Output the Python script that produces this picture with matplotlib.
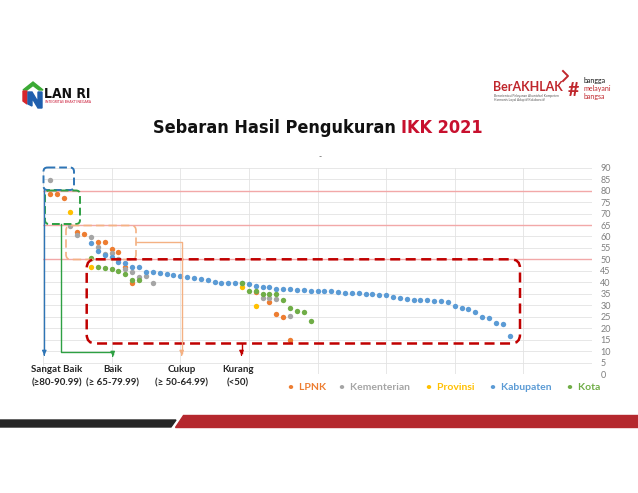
import matplotlib.pyplot as plt
import matplotlib.patches as mpatches
from matplotlib import font_manager

# series data: x = rank position, y = IKK score
lpnk_x = [1, 2, 3, 5, 6, 8, 9, 10, 11, 12, 13, 31, 33, 34, 35, 36]
lpnk_y = [78.5, 78.4, 76.6, 61.8, 61.0, 57.6, 57.6, 54.4, 53.2, 46.8, 39.6, 35.6, 31.3, 26.1, 24.7, 14.8]

kementerian_x = [1, 4, 5, 7, 8, 9, 10, 11, 12, 13, 14, 15, 16, 32, 33, 34, 36]
kementerian_y = [84.8, 64.4, 60.6, 59.6, 55.5, 52.5, 52.6, 50.0, 45.8, 44.6, 42.5, 42.7, 39.8,
                 33.3, 33.3, 32.8, 25.2]

provinsi_x = [4, 7, 29, 31]
provinsi_y = [70.8, 46.5, 37.8, 29.6]

kabupaten_x = list(range(7, 69))
kabupaten_y = [57.2, 53.6, 51.9, 51.0, 48.7, 48.4, 46.6, 46.6, 44.6, 44.6,
               44.0, 43.6, 43.2, 42.6, 42.4, 41.9, 41.4, 41.0, 40.1, 39.9,
               39.8, 39.8, 39.8, 39.1, 38.3, 38.0, 38.0, 37.3, 37.0, 37.0,
               36.6, 36.6, 36.3, 36.3, 36.3, 36.2, 35.9, 35.4, 35.2, 35.2,
               34.8, 34.7, 34.4, 34.4, 33.7, 33.0, 32.7, 32.5, 32.5, 32.2,
               31.9, 31.9, 31.5, 29.6, 29.0, 28.2, 27.1, 24.9, 24.6, 22.3,
               21.7, 16.5]

kota_x = [7, 8, 9, 10, 11, 12, 13, 14, 29, 30, 31, 32, 33, 34, 35, 36, 37, 38, 39]
kota_y = [50.4, 46.5, 46.1, 45.9, 45.0, 43.8, 40.8, 40.8, 39.6, 36.2, 36.0, 34.7, 34.7, 34.7,
          32.2, 29.0, 27.6, 26.9, 23.2]

series_names = ['LPNK', 'Kementerian', 'Provinsi', 'Kabupaten', 'Kota']
series_colors = ['#ED7D31', '#A5A5A5', '#FFC000', '#5B9BD5', '#70AD47']
limits = [80, 65, 50]

plt.rcParams['font.family'] = ['Lato', 'DejaVu Sans']

# pick a narrow bold face for the title if one is installed
fonts = font_manager.fontManager.ttflist
narrow = dict(family=['DejaVu Sans'])
if any(f.name == 'Liberation Sans Narrow' for f in fonts):
    narrow = dict(family=['Liberation Sans Narrow', 'DejaVu Sans'])
elif any(f.name == 'DejaVu Sans' and 'condensed' in str(f.stretch) for f in fonts):
    narrow = dict(family=['DejaVu Sans'], fontstretch='condensed')
elif any(f.name == 'Roboto' for f in fonts):
    narrow = dict(family=['Roboto', 'DejaVu Sans'])

W, H = 638, 493
fig = plt.figure(figsize=(W / 100, H / 100), dpi=100)

# main chart
ax = fig.add_axes([43 / W, 1 - 374 / H, (592 - 43) / W, (374 - 167.7) / H])
data = [(lpnk_x, lpnk_y), (kementerian_x, kementerian_y), (provinsi_x, provinsi_y),
        (kabupaten_x, kabupaten_y), (kota_x, kota_y)]
for (xs, ys), c in zip(data, series_colors):
    ax.scatter(xs, ys, s=15, color=c, linewidths=0, zorder=3)

ax.set_xlim(0, 80)
ax.set_ylim(0, 90)
ax.set_xticks(range(0, 81, 10))
ax.set_xticklabels([])
ax.set_yticks(range(0, 91, 5))
ax.yaxis.tick_right()
ax.tick_params(length=0, labelsize=6.5, labelcolor='#7f7f7f', pad=6)
ax.grid(color='#e3e3e3', lw=0.6)
ax.set_axisbelow(True)
for s in ax.spines.values():
    s.set_visible(False)
for v in limits:
    ax.axhline(v, color='#f2a8a8', lw=1, zorder=1)

# overlay in pixel coords for annotations
ov = fig.add_axes([0, 0, 1, 1])
ov.set_xlim(0, W)
ov.set_ylim(H, 0)
ov.axis('off')


def box(x0, y0, x1, y1, c, lw, r, dash):
    ov.add_patch(mpatches.FancyBboxPatch((x0, y0), x1 - x0, y1 - y0,
                                         boxstyle=f'round,pad=0,rounding_size={r}',
                                         fill=False, ec=c, lw=lw, ls=(0, dash)))


def arrow(pts, c, lw=1.0):
    xs = [p[0] for p in pts]
    ys = [p[1] for p in pts]
    ov.plot(xs[:-1] + [xs[-1]], ys[:-1] + [ys[-1] - 5], color=c, lw=lw)
    ov.annotate('', xy=(xs[-1], ys[-1]), xytext=(xs[-1], ys[-1] - 6),
                arrowprops=dict(arrowstyle='-|>', color=c, lw=lw, mutation_scale=6))


box(43.5, 167.5, 74, 190, '#2E75B6', 1.4, 4, (4, 2))
box(45, 190.5, 80, 224, '#2EA043', 1.4, 4, (4, 2))
box(66, 225.5, 136, 259.5, '#F4B183', 1.2, 5, (5, 2.5))
box(86.7, 259.3, 520, 343.5, '#C00000', 1.8, 9, (4, 2.2))

arrow([(44.3, 190), (44.3, 358)], '#2E75B6')
arrow([(60.7, 224), (60.7, 352), (112.7, 352), (112.7, 359)], '#2EA043')
arrow([(136, 242), (181.7, 242), (181.7, 358)], '#F4B183')
arrow([(241.5, 343.5), (241.5, 358)], '#C00000')

lab = dict(ha='center', va='center', fontsize=7, weight='bold', color='#262626')
ov.text(57, 370, 'Sangat Baik', **lab)
ov.text(57, 383, '(≥80-90.99)', **lab)
ov.text(112.5, 370, 'Baik', **lab)
ov.text(112.5, 383, '(≥ 65-79.99)', **lab)
ov.text(181.5, 370, 'Cukup', **lab)
ov.text(181.5, 383, '(≥ 50-64.99)', **lab)
ov.text(238, 370, 'Kurang', **lab)
ov.text(238, 383, '(<50)', **lab)

# legend
leg_x = [288, 339, 426, 490, 567]
for x, name, c in zip(leg_x, series_names, series_colors):
    ov.text(x, 387.5, '•  ' + name, color=c, fontsize=7.5, weight='bold', va='center')

ov.text(320, 157, '-', ha='center', va='center', fontsize=6, color='#404040')

# title, sized to the reference width
tkw = dict(weight='bold', va='center', **narrow)
t1 = ov.text(0, 128, 'Sebaran Hasil Pengukuran ', ha='left', color='#111111', fontsize=16, **tkw)
t2 = ov.text(0, 128, 'IKK 2021', ha='left', color='#C8102E', fontsize=16, **tkw)
r = fig.canvas.get_renderer()
w1 = t1.get_window_extent(r).width
w2 = t2.get_window_extent(r).width
k = 330 / (w1 + w2)
t1.set_fontsize(16 * k)
t2.set_fontsize(16 * k)
t1.set_x(153)
t2.set_x(153 + w1 * k)

# LAN RI logo
ov.add_patch(mpatches.Polygon([(23, 90), (33, 82), (43, 90), (39, 90), (33, 85.5), (27, 90)],
                              color='#3BAA35'))
ov.add_patch(mpatches.Polygon([(23, 91), (27, 91), (27, 104), (23, 101)], color='#D7262C'))
ov.add_patch(mpatches.Polygon([(28, 92), (32, 92), (38, 102), (38, 92), (42, 92), (42, 108),
                               (38, 108), (32, 98), (32, 106), (28, 104)], color='#1F5FAD'))
ov.text(44, 94, 'LAN RI', fontsize=10, weight='bold', color='#111111', va='center', **narrow)
ov.text(45, 102, 'INTEGRITAS BHAKTI NEGARA', fontsize=2.4, color='#C8102E', va='center')

# BerAKHLAK logo
ov.text(493, 87, 'BerAKHLAK', fontsize=9, weight='bold', color='#C0272D', va='center')
ov.text(494, 96, 'Berorientasi Pelayanan Akuntabel Kompeten', fontsize=2.3, color='#555555', va='center')
ov.text(494, 100, 'Harmonis Loyal Adaptif Kolaboratif', fontsize=2.3, color='#555555', va='center')
ov.plot([563, 568, 563], [71, 76, 81], color='#C0272D', lw=1.4)
ov.text(568, 90, '#', fontsize=14, weight='bold', color='#C0272D', va='center')
ov.text(583, 80, 'bangga', fontsize=5, color='#111111', va='center')
ov.text(583, 88, 'melayani', fontsize=5, color='#C0272D', va='center')
ov.text(583, 96, 'bangsa', fontsize=5, color='#C0272D', va='center')

# bottom bar
ov.add_patch(mpatches.Polygon([(0, 420), (176, 420), (171, 427), (0, 427)], color='#262626'))
ov.add_patch(mpatches.Polygon([(183, 415), (638, 415), (638, 427), (175, 427)], color='#B5282E'))

fig.savefig('out.png', dpi=100)
